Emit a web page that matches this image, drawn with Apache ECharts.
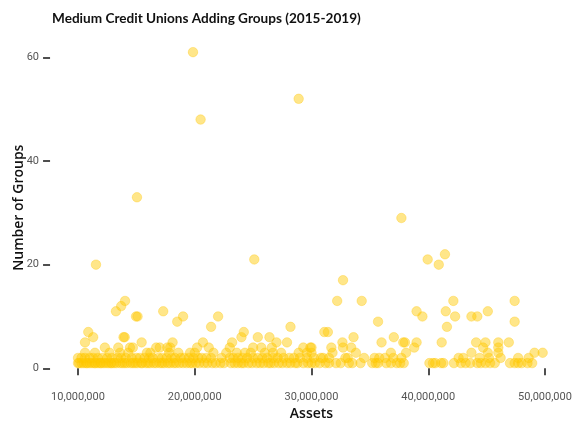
<!DOCTYPE html>
<html>
<head>
<meta charset="utf-8">
<script src="https://cdn.jsdelivr.net/npm/echarts@6.0.0/dist/echarts.min.js"></script>
<style>html,body{margin:0;padding:0;background:#fff}#chart{width:577px;height:433px}</style>
</head>
<body>
<div id="chart"></div>
<script>
// Number of groups added (levels) and the assets (in millions of dollars) of credit unions at each level
const groupLevels = [1, 2, 3, 4, 5, 6, 7, 8, 9, 10, 11, 12, 13, 17, 20, 21, 22, 29, 33, 48, 52, 61];
const assetsByLevel = [
  [10.0,10.1,10.3,10.5,10.7,10.8,11.0,11.2,11.4,11.5,11.7,11.9,12.0,12.2,12.4,12.6,12.8,12.9,13.1,13.3,13.6,13.8,14.0,14.2,14.5,14.7,14.9,15.1,15.4,15.5,15.8,16.0,16.2,16.5,16.7,17.0,17.2,17.4,17.7,17.9,18.2,18.4,18.7,19.0,19.3,19.6,19.8,20.1,20.4,20.8,21.1,21.5,21.8,22.2,22.5,23.1,23.4,23.7,24.0,24.2,24.6,24.9,25.3,25.6,25.9,26.3,26.5,26.8,27.2,27.5,27.9,28.2,28.6,28.8,29.3,29.7,30.0,30.3,30.7,31.2,31.5,32.1,32.5,33.2,33.5,34.2,35.2,35.5,35.7,36.4,36.8,37.3,37.6,37.9,40.1,40.4,40.6,41.1,41.3,42.2,42.8,43.2,43.6,44.2,44.5,44.9,45.3,45.7,47.0,47.4,47.7,48.0,48.5,48.9],
  [10.0,10.3,10.6,11.0,11.3,11.7,12.1,12.5,12.9,13.4,13.7,14.1,14.6,15.0,15.3,15.7,16.1,16.4,16.9,17.2,17.6,18.0,18.3,18.8,19.1,19.5,19.9,20.3,20.6,21.0,21.4,22.3,23.0,23.3,23.7,24.1,24.5,25.0,25.4,25.8,26.2,26.7,27.1,27.6,28.1,28.5,29.0,29.6,30.2,30.8,31.0,31.5,32.9,33.1,34.5,35.4,35.8,36.3,37.0,37.7,42.6,43.0,44.4,45.2,46.2,47.7,48.6],
  [10.6,11.45,12.7,13.6,14.3,15.9,16.2,17.8,18.6,19.6,20.0,21.6,22.7,23.6,24.3,24.8,26.0,26.7,27.4,28.9,29.6,30.0,31.8,33.8,36.8,38.1,43.7,45.1,46.0,49.1,49.8],
  [12.3,13.45,14.45,14.7,16.7,17.0,17.65,17.9,20.2,21.2,23.0,25.0,25.7,26.6,29.3,29.9,30.0,31.7,32.7,33.4,38.8,44.7,46.0],
  [10.6,15.45,18.1,20.7,23.2,27.0,27.9,32.65,36.0,37.86,38.0,39.0,41.15,44.1,44.9,46.0,46.9],
  [11.3,13.9,14.0,24.0,25.4,26.4,33.6,37.05],
  [10.88,24.2,31.1,31.4],
  [21.4,28.2,41.6],
  [18.5,35.7,47.4],
  [14.97,15.1,19.0,22.0,39.5,42.3,43.7,44.2],
  [13.25,17.3,39.0,41.5,45.1],
  [13.7],
  [14.03,32.2,34.3,42.15,47.4],
  [32.7],
  [11.54,40.9],
  [25.1,39.95],
  [41.43],
  [37.7],
  [15.05],
  [20.5],
  [28.9],
  [19.85]
];
const xTicks = [10000000, 20000000, 30000000, 40000000, 50000000];
const yTicks = [0, 20, 40, 60];

const points = [];
groupLevels.forEach(function (g, i) {
  assetsByLevel[i].forEach(function (a) { points.push([a * 1000000, g]); });
});

const chart = echarts.init(document.getElementById('chart'), null, {renderer: 'canvas'});
const fmt = function (v) { return Math.round(v).toString().replace(/\B(?=(\d{3})+(?!\d))/g, ','); };
chart.setOption({
  animation: false,
  backgroundColor: '#fff',
  title: {
    text: 'Medium Credit Unions Adding Groups (2015-2019)',
    left: 47, top: 7,
    textStyle: {fontFamily: 'Lato', fontSize: 13.6, fontWeight: 'bold', color: '#111'}
  },
  grid: {left: 54.65, right: 8.65, top: 36.6, bottom: 54.33, containLabel: false, outerBoundsMode: 'none'},
  xAxis: {
    type: 'value', min: 8000000, max: 52000000,
    name: 'Assets', nameLocation: 'middle', nameGap: 28, nameMoveOverlap: false,
    nameTextStyle: {fontFamily: 'Open Sans', fontSize: 14, fontWeight: 600, color: '#111'},
    axisLine: {show: false},
    axisTick: {show: true, length: 7, inside: false, lineStyle: {color: '#222', width: 1.6}, customValues: xTicks},
    axisLabel: {customValues: xTicks, formatter: fmt, margin: 13, fontFamily: 'Roboto', fontSize: 11, color: '#555'},
    splitLine: {show: false}
  },
  yAxis: {
    type: 'value', min: -2, max: 64, offset: 4.6,
    name: 'Number of Groups', nameLocation: 'middle', nameGap: 24, nameRotate: 90, nameMoveOverlap: false,
    nameTextStyle: {fontFamily: 'Open Sans', fontSize: 14, fontWeight: 600, color: '#111'},
    axisLine: {show: false},
    axisTick: {show: true, length: 7, lineStyle: {color: '#222', width: 1.6}, customValues: yTicks},
    axisLabel: {customValues: yTicks, margin: 11, fontFamily: 'Roboto', fontSize: 11, color: '#555'},
    splitLine: {show: false}
  },
  series: [{
    type: 'scatter',
    data: points,
    symbolSize: 9.5,
    clip: false,
    itemStyle: {color: 'rgba(255,200,0,0.58)', borderColor: 'rgba(255,196,0,0.4)', borderWidth: 1}
  }]
});
</script>
</body>
</html>
